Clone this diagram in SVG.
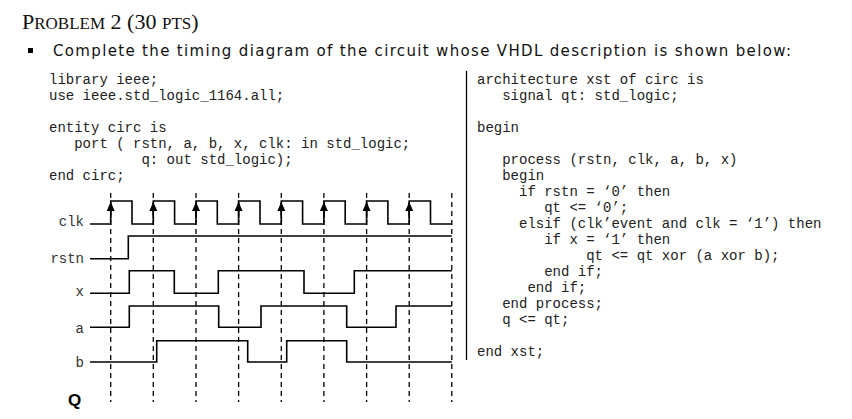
<svg xmlns="http://www.w3.org/2000/svg" width="852" height="419" viewBox="0 0 852 419">
<style>
.c{font-family:"Liberation Mono",monospace;font-size:14px;fill:#222;white-space:pre}
.w{fill:none;stroke:#000;stroke-width:1.6}
.d{stroke:#000;stroke-width:1.3;stroke-dasharray:5,4}
.l{font-family:"Liberation Mono",monospace;font-size:14px;fill:#333;text-anchor:end}
</style>
<defs><marker id="ar" markerWidth="9" markerHeight="8" refX="8" refY="4" orient="auto" markerUnits="userSpaceOnUse"><path d="M0,0 L9,4 L0,8 Z" fill="#000"/></marker></defs>
<rect width="852" height="419" fill="#fff"/>
<text x="22" y="29" font-family="Liberation Serif,serif" font-size="22" fill="#111">P<tspan font-size="17">ROBLEM</tspan> 2 (30 <tspan font-size="17">PTS</tspan>)</text>
<rect x="28" y="48" width="5" height="5" fill="#000"/>
<text x="53" y="56" font-family="DejaVu Sans,sans-serif" font-size="15" fill="#111" textLength="738">Complete the timing diagram of the circuit whose VHDL description is shown below:</text>
<g id="code-left">
<text class="c" x="49" y="84">library ieee;</text>
<text class="c" x="49" y="100">use ieee.std_logic_1164.all;</text>
<text class="c" x="49" y="132">entity circ is</text>
<text class="c" x="49" y="148">   port ( rstn, a, b, x, clk: in std_logic;</text>
<text class="c" x="49" y="164">           q: out std_logic);</text>
<text class="c" x="49" y="180">end circ;</text>
</g>
<line x1="466.5" y1="71" x2="466.5" y2="360" stroke="#000" stroke-width="1.3"/>
<g id="code-right">
<text class="c" x="477" y="84">architecture xst of circ is</text>
<text class="c" x="477" y="100">   signal qt: std_logic;</text>
<text class="c" x="477" y="132">begin</text>
<text class="c" x="477" y="164">   process (rstn, clk, a, b, x)</text>
<text class="c" x="477" y="180">   begin</text>
<text class="c" x="477" y="196">     if rstn = ‘0’ then</text>
<text class="c" x="477" y="212">        qt &lt;= ‘0’;</text>
<text class="c" x="477" y="228">     elsif (clk’event and clk = ‘1’) then</text>
<text class="c" x="477" y="244">        if x = ‘1’ then</text>
<text class="c" x="477" y="260">             qt &lt;= qt xor (a xor b);</text>
<text class="c" x="477" y="276">        end if;</text>
<text class="c" x="477" y="292">      end if;</text>
<text class="c" x="477" y="308">   end process;</text>
<text class="c" x="477" y="324">   q &lt;= qt;</text>
<text class="c" x="477" y="356">end xst;</text>
</g>
<g id="grid">
<line class="d" x1="110.7" y1="193" x2="110.7" y2="402"/>
<line class="d" x1="153.3" y1="193" x2="153.3" y2="402"/>
<line class="d" x1="196" y1="193" x2="196" y2="402"/>
<line class="d" x1="238.6" y1="193" x2="238.6" y2="402"/>
<line class="d" x1="281.3" y1="193" x2="281.3" y2="402"/>
<line class="d" x1="323.9" y1="193" x2="323.9" y2="402"/>
<line class="d" x1="366.6" y1="193" x2="366.6" y2="402"/>
<line class="d" x1="409.2" y1="193" x2="409.2" y2="402"/>
<line class="d" x1="451.8" y1="193" x2="451.8" y2="402"/>
</g>
<g id="clk">
<text class="l" x="84" y="226">clk</text>
<path class="w" d="M90,224 H110.7 V201 H132 V224 H153.3 V201 H174.6 V224 H196 V201 H217.3 V224 H238.6 V201 H260 V224 H281.3 V201 H302.6 V224 H323.9 V201 H345.2 V224 H366.6 V201 H387.9 V224 H409.2 V201 H430.5 V224 H451.8"/>
<g stroke="#000" stroke-width="1.4">
<line x1="110.7" y1="218" x2="110.7" y2="203" marker-end="url(#ar)"/>
<line x1="153.3" y1="218" x2="153.3" y2="203" marker-end="url(#ar)"/>
<line x1="196" y1="218" x2="196" y2="203" marker-end="url(#ar)"/>
<line x1="238.6" y1="218" x2="238.6" y2="203" marker-end="url(#ar)"/>
<line x1="281.3" y1="218" x2="281.3" y2="203" marker-end="url(#ar)"/>
<line x1="323.9" y1="218" x2="323.9" y2="203" marker-end="url(#ar)"/>
<line x1="366.6" y1="218" x2="366.6" y2="203" marker-end="url(#ar)"/>
<line x1="409.2" y1="218" x2="409.2" y2="203" marker-end="url(#ar)"/>
</g>
</g>
<g id="rstn">
<text class="l" x="84" y="263">rstn</text>
<path class="w" d="M90,258.7 H128.3 V236 H451.8"/>
</g>
<g id="x">
<text class="l" x="84" y="296">x</text>
<path class="w" d="M90,293.3 H129.3 V270.7 H174.3 V293.3 H218.3 V270.7 H304 V293.3 H354.3 V270.7 H451.8"/>
</g>
<g id="a">
<text class="l" x="84" y="333">a</text>
<path class="w" d="M90,327.3 H129.3 V306 H218.7 V327.3 H261 V306 H346.7 V327.3 H396 V306 H451.8"/>
</g>
<g id="b">
<text class="l" x="84" y="367">b</text>
<path class="w" d="M90,362 H156.7 V340.7 H247.7 V362 H286.7 V340.7 H346.7 V362 H451.8"/>
</g>
<text x="68" y="406" font-family="Liberation Sans,sans-serif" font-size="17" font-weight="bold" fill="#000">Q</text>
</svg>
